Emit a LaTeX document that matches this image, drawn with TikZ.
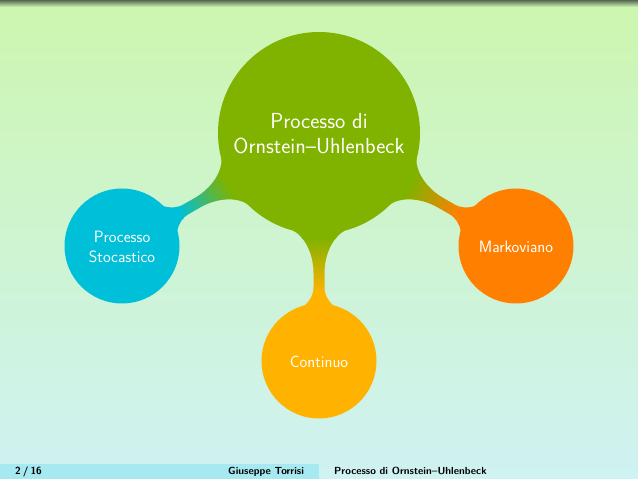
\documentclass[tikz,border=0pt]{standalone}
\usepackage{fontspec}
\usetikzlibrary{calc}
\definecolor{cMain}{RGB}{128,178,0}
\definecolor{cLeft}{RGB}{0,191,216}
\definecolor{cRight}{RGB}{255,128,0}
\definecolor{cBottom}{RGB}{255,179,0}
\definecolor{bgTop}{RGB}{205,246,175}
\definecolor{bgBot}{RGB}{207,242,243}
\definecolor{footBar}{RGB}{167,233,240}
\definecolor{barTop}{RGB}{85,105,85}
\pgfdeclarelayer{bglayer}
\pgfdeclarelayer{connlayer}
\pgfsetlayers{bglayer,connlayer,main}
\newcommand\bubtext[1]{\raisebox{-3pt}[\height][\depth]{\begin{tabular}{@{}c@{}}#1\end{tabular}}}
\newcommand\gradconn[4]{%
  \pgfpointanchor{#1}{center}\pgfgetlastxy{\ax}{\ay}%
  \pgfpointanchor{#2}{center}\pgfgetlastxy{\bx}{\by}%
  \pgfmathsetmacro\ang{atan2(\by-\ay,\bx-\ax)}%
  \pgfmathsetmacro\dst{veclen(\bx-\ax,\by-\ay)}%
  \begin{pgfonlayer}{connlayer}
  \begin{scope}[transform canvas={shift={(\ax,\ay)},rotate=\ang}]
    \clip (80,0) -- (97.5,26) .. controls (103,15) and (120,5.5) .. (140,5.5)
      -- ({\dst-74},5.5) .. controls ({\dst-66},5.5) and ({\dst-60},9) .. ({\dst-55},15)
      -- ({\dst-40},0)
      -- ({\dst-55},-15) .. controls ({\dst-60},-9) and ({\dst-66},-5.5) .. ({\dst-74},-5.5)
      -- (140,-5.5) .. controls (120,-5.5) and (103,-15) .. (97.5,-26) -- cycle;
    \fill[#3] (70,-60) rectangle (106,60);
    \fill[#4] (159,-60) rectangle ({\dst-30},60);
    \shade[left color=#3,right color=#4] (105,-60) rectangle (160,60);
  \end{scope}
  \end{pgfonlayer}%
}
\tikzset{
  bubble/.style={circle,inner sep=0pt,text=white,font=\sffamily\fontsize{16.4}{20}\selectfont},
  foot/.style={inner sep=0pt,anchor=base west,text=black,font=\sffamily\bfseries\fontsize{10.3}{11}\selectfont}
}
\begin{document}
\begin{tikzpicture}[x=1pt,y=1pt]
\useasboundingbox (0,0) rectangle (638,479);
\begin{pgfonlayer}{bglayer}
  \shade[top color=bgTop,bottom color=bgBot] (0,0) rectangle (638,479);
  \shade[top color=barTop,bottom color=bgTop] (0,472) rectangle (638,479);
  \fill[footBar] (0,0) rectangle (319,15);
\end{pgfonlayer}
\node[bubble,fill=cMain,minimum size=202pt,font=\sffamily\fontsize{21.8}{25}\selectfont] (nMain) at (319,346) {\bubtext{Processo di\\Ornstein--Uhlenbeck}};
\node[bubble,fill=cLeft,minimum size=115pt] (nLeft) at (122,233) {\bubtext{Processo\\Stocastico}};
\node[bubble,fill=cRight,minimum size=115pt] (nRight) at (516,233) {\bubtext{Markoviano}};
\node[bubble,fill=cBottom,minimum size=115pt] (nBottom) at (319,118) {\bubtext{Continuo}};
\gradconn{nMain}{nLeft}{cMain}{cLeft}
\gradconn{nMain}{nRight}{cMain}{cRight}
\gradconn{nMain}{nBottom}{cMain}{cBottom}
\node[foot] (fPage) at (15,4) {2\hspace{2pt}/\hspace{2pt}16};
\node[foot] (fAuthor) at (228,4) {Giuseppe Torrisi};
\node[foot] (fTitle) at (334,4) {Processo di Ornstein--Uhlenbeck};
\end{tikzpicture}
\end{document}
